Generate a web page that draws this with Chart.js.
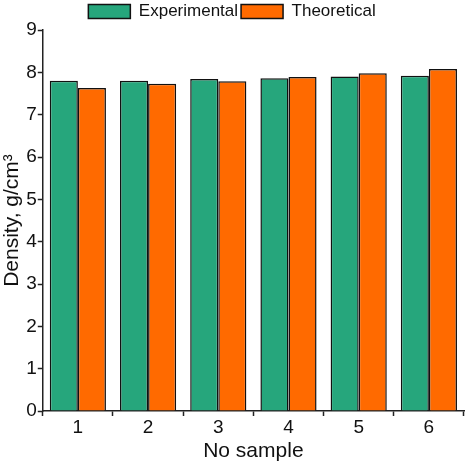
<!DOCTYPE html>
<html><head>
<script src="https://cdn.jsdelivr.net/npm/chart.js@4"></script>
<style>body{margin:0;background:#fff}#wrap{width:474px;height:464px}</style>
</head><body>
<div id="wrap"><canvas id="chart"></canvas></div>
<script>
const samples = ['1', '2', '3', '4', '5', '6'];
const experimental = [7.80, 7.80, 7.84, 7.86, 7.90, 7.92];
const theoretical = [7.63, 7.73, 7.79, 7.89, 7.98, 8.08];

const font = 'Arial, Liberation Sans';
new Chart(document.getElementById('chart'), {
  type: 'bar',
  data: {
    labels: samples,
    datasets: [
      { label: 'Experimental', data: experimental, backgroundColor: '#26a67c', borderColor: '#111', borderWidth: 1.5 },
      { label: 'Theoretical', data: theoretical, backgroundColor: '#ff6a00', borderColor: '#111', borderWidth: 1.5 }
    ]
  },
  options: {
    responsive: true, maintainAspectRatio: false, animation: false,
    layout: { padding: { top: 0, right: 10, left: 0, bottom: 0 } },
    datasets: { bar: { categoryPercentage: 0.8, barPercentage: 1 } },
    plugins: {
      legend: {
        position: 'top',
        labels: { font: { family: font, size: 17 }, color: '#111', boxWidth: 42, boxHeight: 14, padding: 3 }
      },
      tooltip: { enabled: false }
    },
    scales: {
      x: {
        grid: { drawOnChartArea: false, color: '#222', tickLength: 5, tickWidth: 1.5 },
        border: { color: '#222', width: 1.5 },
        ticks: { font: { family: font, size: 19 }, color: '#111', padding: 0 },
        title: { display: true, text: 'No sample', font: { family: font, size: 21 }, color: '#111', padding: 0 }
      },
      y: {
        min: 0, max: 9,
        grid: { drawOnChartArea: false, color: '#222', tickLength: 5, tickWidth: 1.5 },
        border: { color: '#222', width: 1.5 },
        ticks: { stepSize: 1, font: { family: font, size: 19 }, color: '#111', padding: 1 },
        title: { display: true, text: 'Density, g/cm³', font: { family: font, size: 21 }, color: '#111', padding: 0 }
      }
    }
  }
});
</script>
</body></html>
